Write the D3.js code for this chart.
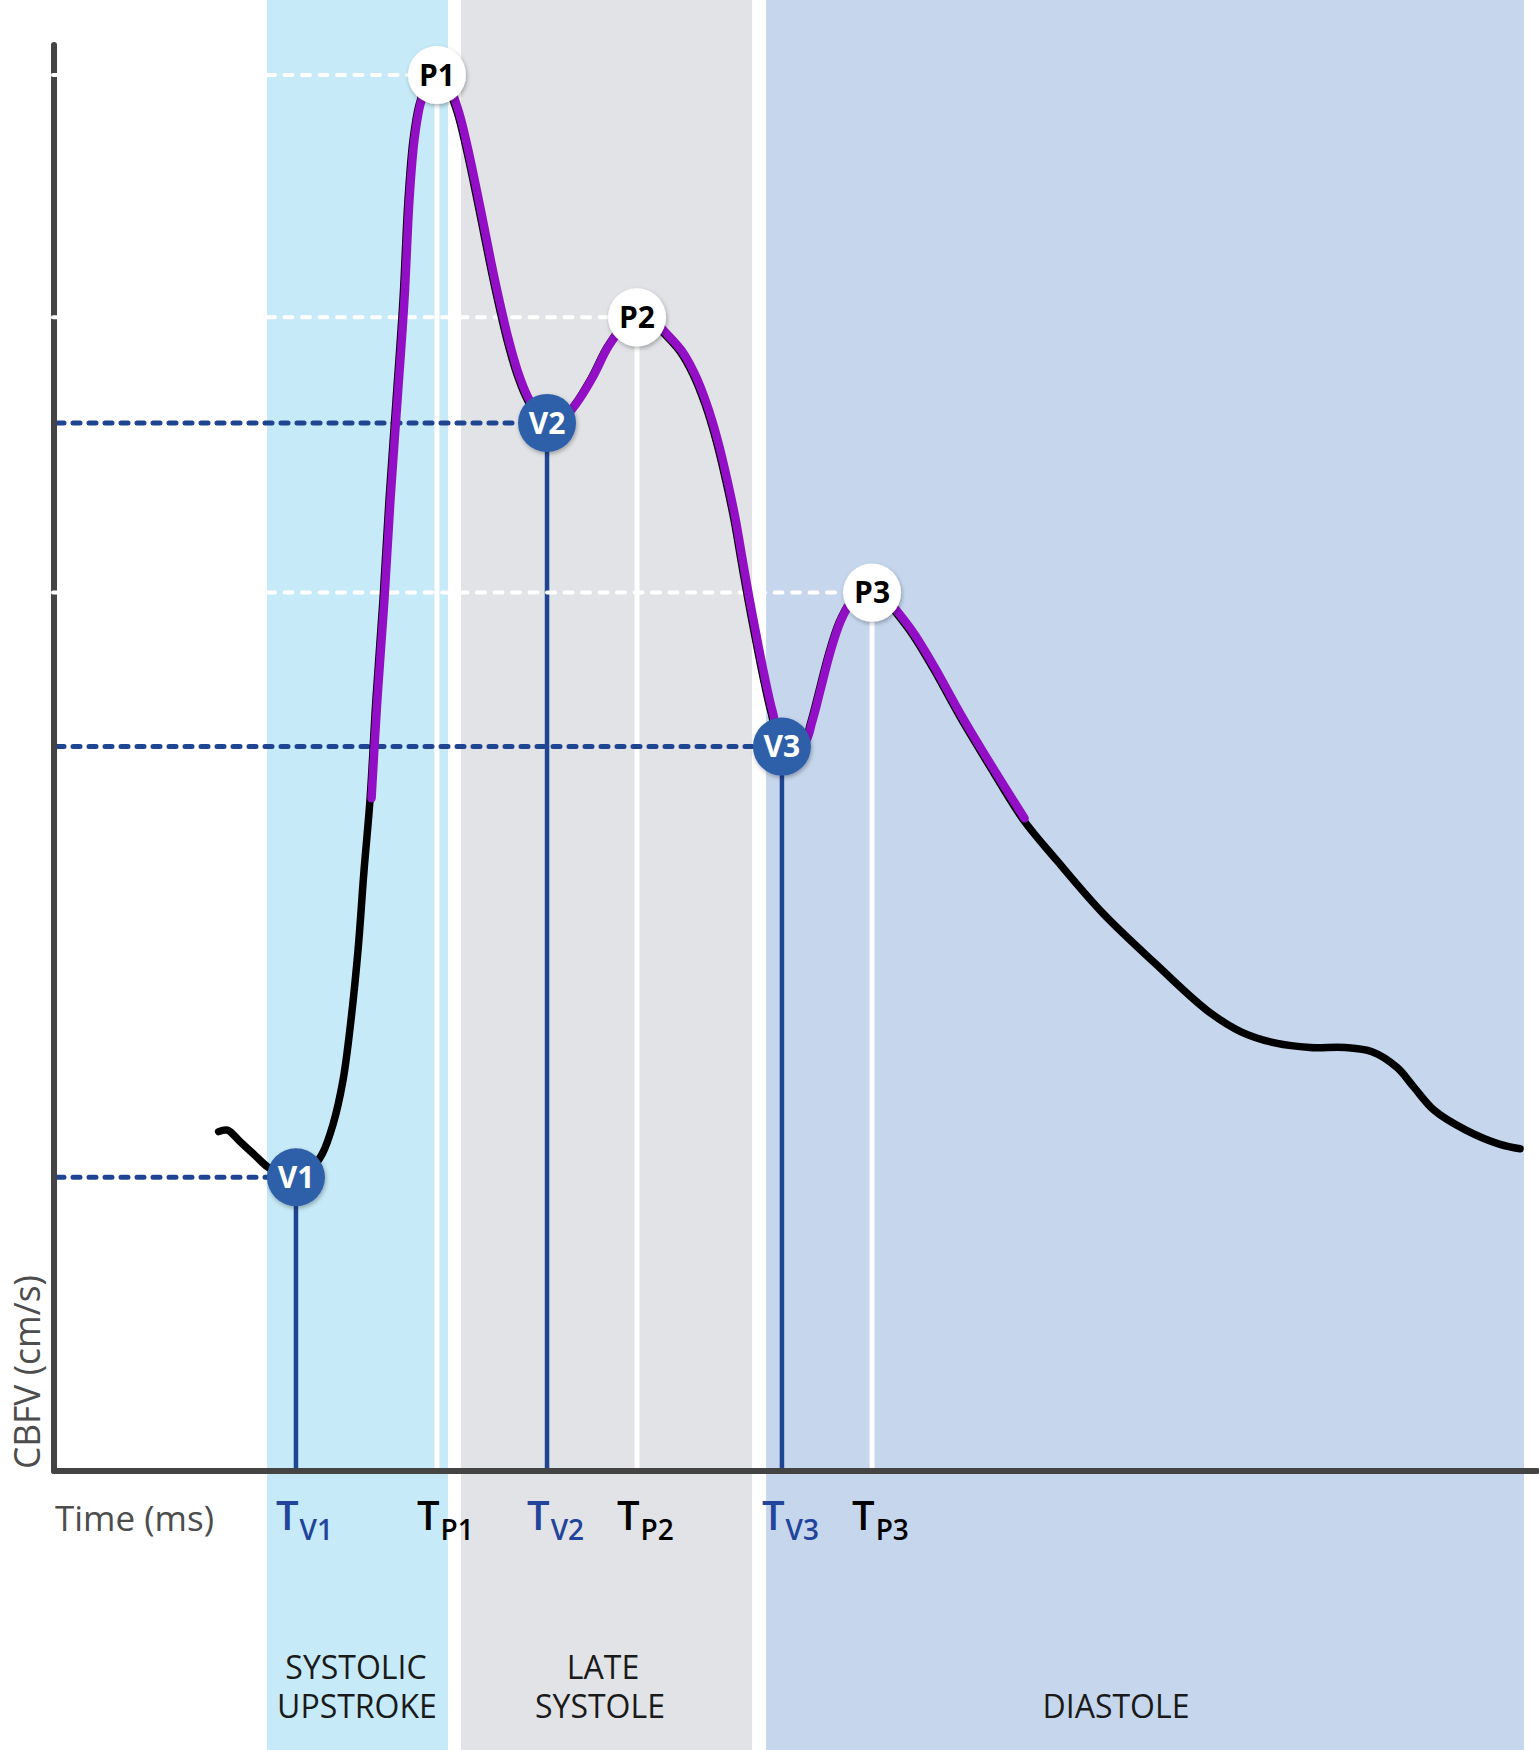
<!DOCTYPE html>
<html>
<head>
<meta charset="utf-8">
<script src="https://cdn.jsdelivr.net/npm/d3@7/dist/d3.min.js"></script>
<style>
  html, body { margin: 0; padding: 0; background: #ffffff; }
  svg { display: block; }
  text { font-family: "Open Sans", "Noto Sans", sans-serif; }
</style>
</head>
<body>
<script>
// ---------------- DATA ----------------
// waveform samples: time (ms) and CBFV (cm/s)
const curveTime = [112, 118, 126.5, 136.1, 145.6, 155.8, 164.6, 174.1, 182.3, 189.8, 196.6, 202.0, 206.8, 210.9, 215.0,
  219.0, 223.8, 227.9, 232.7, 237.4, 240.8, 244.2, 248.3, 253.7, 260.5,
  268.7, 274.8, 280.3, 285.7, 291.2, 296.6, 302.0, 308.2, 314.3, 321.1, 327.9, 335.4,
  345.6, 354.4, 365.3, 376.2, 386.4, 396.6, 406.8, 415.6, 425.9, 434.7, 442.9, 450.3, 457.1, 462.6, 467.3,
  472.1, 476.9, 482.3, 487.8, 495.2, 509.4, 514.8, 520.4, 527.2, 534.0, 540.8, 547.6, 556.5,
  565.3, 573.5, 584.4, 598.0, 616.3, 636.7, 659.2, 682.3, 713.6, 749.0, 784.4, 807.5, 831.3, 854.4, 878.2,
  896.6, 913.6, 925.2, 938.8, 960.5, 983.7, 997.3];
const curveCBFV = [23.8, 23.9, 23.1, 22.2, 21.3, 20.7, 20.6, 21.1, 22.2, 24.3, 27.4, 31.6, 36.5, 42.1, 47.1,
  54.1, 61.1, 68.1, 75.1, 82.1, 89.1, 93.3, 95.8, 97.2, 97.9,
  96.8, 95.1, 92.8, 90.2, 87.4, 84.6, 82.0, 79.3, 77.1, 75.3, 74.1, 73.5,
  73.8, 74.8, 76.6, 78.8, 80.2, 80.9, 80.6, 79.7, 78.5, 76.9, 74.8, 72.3, 69.4, 66.7, 63.9,
  61.1, 58.5, 55.7, 53.2, 50.8, 51.0, 52.5, 54.7, 57.4, 59.5, 60.8, 61.4, 61.6,
  61.1, 60.1, 58.6, 56.3, 52.9, 49.4, 45.7, 42.8, 39.1, 35.6, 32.3, 30.8, 30.0, 29.7, 29.7,
  29.4, 28.3, 26.9, 25.3, 23.9, 22.9, 22.6];
// highlighted (purple) part of the waveform, in ms
const highlightStart = 215.0;
const highlightEnd = 659.2;

// characteristic points
const markerNames = ["V1", "P1", "V2", "P2", "V3", "P3"];
const markerTime  = [164.6, 260.5, 335.4, 396.6, 495.2, 556.5];
const markerCBFV  = [20.6, 97.9, 73.5, 80.9, 50.8, 61.6];

// cardiac phases
const phaseLines = [["SYSTOLIC", "UPSTROKE"], ["LATE", "SYSTOLE"], ["DIASTOLE"]];
const phaseStart = [144.9, 276.9, 484.4];
const phaseEnd   = [268.0, 474.8, 1000];

// axis titles
const xTitle = "Time (ms)";
const yTitle = "CBFV (cm/s)";

// ---------------- LAYOUT ----------------
const W = 1539, H = 1750;
const x = d3.scaleLinear().domain([0, 1000]).range([54, 1524]);
const y = d3.scaleLinear().domain([0, 100]).range([1471, 45]);

const bandColors = ["#c6eaf8", "#e2e3e6", "#c6d7ed"];
const navy = "#22449a";
const vFill = "#2f5fa9";
const purple = "#930fc6";

const svg = d3.select("body").append("svg").attr("width", W).attr("height", H);

const defs = svg.append("defs");
const f = defs.append("filter").attr("id", "shadow").attr("x", "-30%").attr("y", "-30%").attr("width", "160%").attr("height", "160%");
f.append("feDropShadow").attr("dx", 1).attr("dy", 2).attr("stdDeviation", 2).attr("flood-color", "#000").attr("flood-opacity", 0.3);

// bands
svg.append("g").selectAll("rect").data(phaseStart).join("rect")
  .attr("x", (d) => x(d))
  .attr("y", 0)
  .attr("width", (d, i) => x(phaseEnd[i]) - x(d))
  .attr("height", H)
  .attr("fill", (d, i) => bandColors[i]);

const markers = markerNames.map((n, i) => ({ name: n, t: markerTime[i], v: markerCBFV[i], isV: n[0] === "V" }));

// vertical drop lines
svg.append("g").selectAll("line").data(markers).join("line")
  .attr("x1", (d) => x(d.t)).attr("x2", (d) => x(d.t))
  .attr("y1", (d) => y(d.v)).attr("y2", y(0))
  .attr("stroke", (d) => d.isV ? "#1f4592" : "#ffffff")
  .attr("stroke-width", (d) => d.isV ? 4.5 : 5);

// horizontal dashed level lines
svg.append("g").selectAll("line").data(markers).join("line")
  .attr("x1", x(0) + 3).attr("x2", (d) => x(d.t))
  .attr("y1", (d) => y(d.v)).attr("y2", (d) => y(d.v))
  .attr("stroke", (d) => d.isV ? "#1f4592" : "#ffffff")
  .attr("stroke-width", (d) => d.isV ? 5 : 4)
  .attr("stroke-linecap", "round")
  .attr("stroke-dasharray", (d) => d.isV ? "7 9" : "8 9.5");

// axes
const axisG = svg.append("g");
axisG.append("line")
  .attr("x1", x(0)).attr("x2", x(0)).attr("y1", y(0)).attr("y2", y(100))
  .attr("stroke", "#444").attr("stroke-width", 6).attr("stroke-linecap", "round");
axisG.append("line")
  .attr("x1", x(0)).attr("x2", x(1009)).attr("y1", y(0)).attr("y2", y(0))
  .attr("stroke", "#444").attr("stroke-width", 6).attr("stroke-linecap", "round");
// small white level ticks over the axis where the white dashes start
svg.append("g").selectAll("line").data(markers.filter(d => !d.isV)).join("line")
  .attr("x1", x(0) - 1).attr("x2", x(0) + 3)
  .attr("y1", (d) => y(d.v)).attr("y2", (d) => y(d.v))
  .attr("stroke", "#ffffff").attr("stroke-width", 4).attr("stroke-linecap", "round");

// waveform
const pts = curveTime.map((t, i) => ({ t: t, v: curveCBFV[i] }));
const line = d3.line().x((d) => x(d.t)).y((d) => y(d.v)).curve(d3.curveCatmullRom.alpha(0.5));
svg.append("path").attr("d", line(pts))
  .attr("fill", "none").attr("stroke", "#000").attr("stroke-width", 7.5)
  .attr("stroke-linecap", "round").attr("stroke-linejoin", "round");
svg.append("path").attr("d", line(pts.filter((d) => d.t >= highlightStart && d.t <= highlightEnd)))
  .attr("transform", "translate(1.5,-1)")
  .attr("fill", "none").attr("stroke", purple).attr("stroke-width", 8.5)
  .attr("stroke-linecap", "round").attr("stroke-linejoin", "round");

// marker circles
const mg = svg.append("g").selectAll("g").data(markers).join("g")
  .attr("transform", (d) => `translate(${x(d.t)},${y(d.v)})`);
mg.append("circle").attr("r", 29)
  .attr("fill", (d) => d.isV ? vFill : "#ffffff")
  .attr("filter", "url(#shadow)");
mg.append("text")
  .attr("text-anchor", "middle").attr("dy", "0.36em")
  .attr("font-size", 30).attr("font-weight", 700)
  .attr("fill", (d) => d.isV ? "#ffffff" : "#000000")
  .text((d) => d.name);

// tick labels T_xx
const tl = svg.append("g").selectAll("text").data(markers).join("text")
  .attr("x", (d) => x(d.t) - 20).attr("y", 1530)
  .attr("fill", (d) => d.isV ? navy : "#000");
tl.append("tspan").attr("font-size", 40).attr("font-weight", 600).text("T");
tl.append("tspan").attr("font-size", 28).attr("font-weight", 600).attr("dx", 1).attr("dy", 10).text((d) => d.name);

// axis titles
svg.append("text").attr("x", 55).attr("y", 1531)
  .attr("font-size", 35).attr("fill", "#4d4d4d").text(xTitle);
svg.append("text").attr("transform", "translate(40,1469) rotate(-90)")
  .attr("font-size", 36).attr("fill", "#4d4d4d")
  .attr("textLength", 194).attr("lengthAdjust", "spacingAndGlyphs")
  .text(yTitle);

// phase labels
const phaseCenters = [[356, 357], [603, 600], [1116]];
const phaseBaselines = [[1679, 1718], [1679, 1718], [1718]];
const pg = svg.append("g");
phaseLines.forEach((lines, i) => {
  lines.forEach((s, j) => {
    pg.append("text")
      .attr("x", phaseCenters[i][j])
      .attr("y", phaseBaselines[i][j])
      .attr("text-anchor", "middle")
      .attr("font-size", 32).attr("fill", "#1a1a1a")
      .text(s);
  });
});
</script>
</body>
</html>
